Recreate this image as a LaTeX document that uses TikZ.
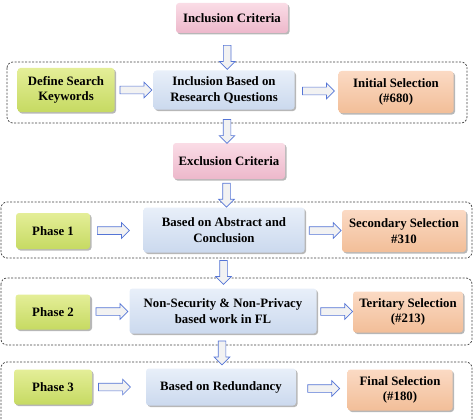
\documentclass[tikz,border=0pt]{standalone}
\usepackage{fontspec}
\setmainfont{Liberation Serif}
\usepackage{xcolor}
\usetikzlibrary{shapes.arrows, shadows, positioning}
\definecolor{pinkA}{HTML}{FADCE6}
\definecolor{pinkB}{HTML}{EDB8CB}
\definecolor{greenA}{HTML}{E4EE98}
\definecolor{greenB}{HTML}{C6DA62}
\definecolor{blueA}{HTML}{E8EFF9}
\definecolor{blueB}{HTML}{CBD9EE}
\definecolor{peachA}{HTML}{FBDAC4}
\definecolor{peachB}{HTML}{F2BE98}
\definecolor{arrowblue}{HTML}{5575D6}
\tikzset{
  box/.style={rectangle, rounded corners=3pt, inner sep=1pt, align=center,
    font=\bfseries\fontsize{12.8}{15.5}\selectfont,
    drop shadow={shadow xshift=1.5pt, shadow yshift=-1.5pt, opacity=0.4, fill=black!70}},
  crit/.style={box, top color=pinkA, bottom color=pinkB},
  phase/.style={box, top color=greenA, bottom color=greenB},
  work/.style={box, top color=blueA, bottom color=blueB},
  sel/.style={box, top color=peachA, bottom color=peachB},
  frame/.style={draw=black!75, line width=0.7pt, dash pattern=on 2pt off 1.5pt, rounded corners=6pt},
  harrow/.style={single arrow, draw=arrowblue, fill=gray!10, line width=0.7pt,
    inner sep=3.5pt, single arrow head extend=4pt, minimum height=32pt},
  varrow/.style={harrow, shape border rotate=270, minimum height=24pt}
}
\begin{document}
\begin{tikzpicture}[x=1pt, y=-1pt]
  \useasboundingbox (0,0) rectangle (474,420);
  \draw[frame] (7,62) rectangle (467,123);
  \draw[frame] (1,202) rectangle (472,258);
  \draw[frame] (1,278) rectangle (472,345);
  \draw[frame] (1,362) rectangle (472,430);

  \node[crit, minimum width=112, minimum height=30] (inc) at (232,18) {Inclusion Criteria};
  \node[phase, minimum width=97, minimum height=44] (keys) at (66,90) {Define Search\\Keywords};
  \node[work, minimum width=141, minimum height=39] (incq) at (224,90) {Inclusion Based on\\Research Questions};
  \node[sel, minimum width=115, minimum height=42] (init) at (396,92) {Initial Selection\\(\#680)};
  \node[crit, minimum width=112, minimum height=36] (exc) at (229,161) {Exclusion Criteria};

  \node[phase, minimum width=74, minimum height=36] (ph1) at (53,231) {Phase 1};
  \node[work, minimum width=161, minimum height=45] (abs) at (224,230) {Based on Abstract and\\Conclusion};
  \node[sel, minimum width=124, minimum height=42] (sec) at (404,231) {Secondary Selection\\\#310};

  \node[phase, minimum width=75, minimum height=35] (ph2) at (53,312) {Phase 2};
  \node[work, minimum width=187, minimum height=45] (nonsp) at (223,311) {Non-Security \& Non-Privacy\\based work in FL};
  \node[sel, minimum width=110, minimum height=41] (ter) at (408,312) {Teritary Selection\\(\#213)};

  \node[phase, minimum width=78, minimum height=35] (ph3) at (53,387) {Phase 3};
  \node[work, minimum width=150, minimum height=37] (red) at (221,387) {Based on Redundancy};
  \node[sel, minimum width=105, minimum height=41] (fin) at (400,390) {Final Selection\\(\#180)};

  \path (inc.south) -- node[varrow, pos=0.6] {} (incq.north);
  \path (keys.east) -- node[harrow] {} (incq.west);
  \path (incq.east) -- node[harrow] {} (init.west);
  \path (incq.south) -- node[varrow, pos=0.6] {} (exc.north);
  \path (exc.south) -- node[varrow] {} (abs.north);
  \path (ph1.east) -- node[harrow, pos=0.4] {} (abs.west);
  \path (abs.east) -- node[harrow] {} (sec.west);
  \path (abs.south) -- node[varrow] {} (nonsp.north);
  \path (ph2.east) -- node[harrow] {} (nonsp.west);
  \path (nonsp.east) -- node[harrow] {} (ter.west);
  \path (nonsp.south) -- node[varrow] {} (red.north);
  \path (ph3.east) -- node[harrow, pos=0.38] {} (red.west);
  \path (red.east) -- node[harrow] {} (fin.west);
\end{tikzpicture}
\end{document}
